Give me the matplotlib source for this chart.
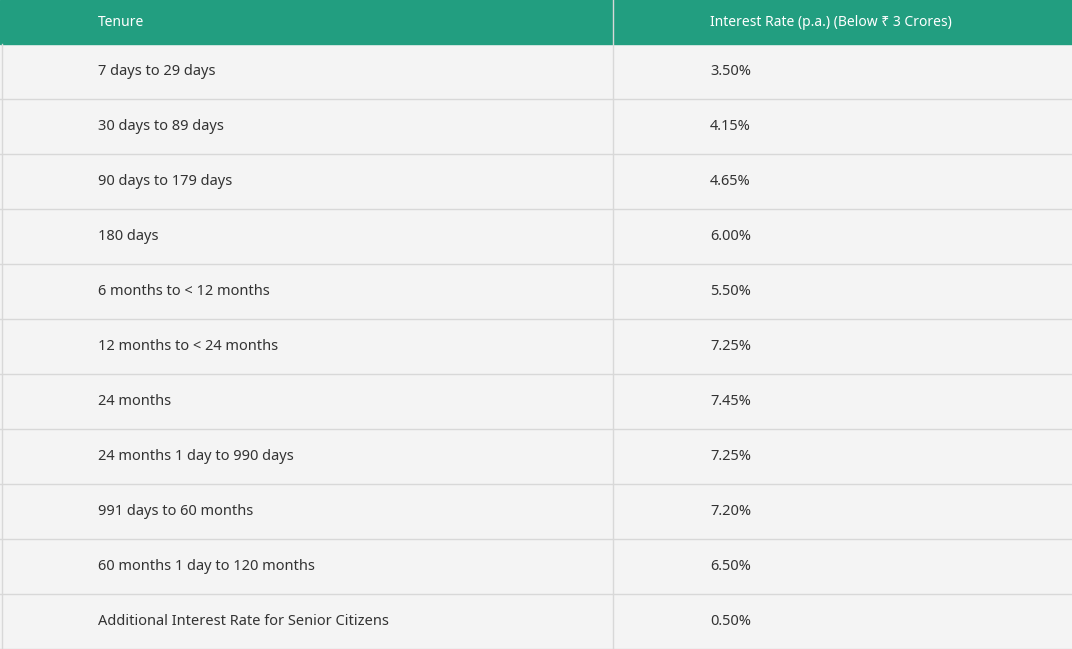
import matplotlib.pyplot as plt
from matplotlib.patches import Rectangle

plt.rcParams["font.family"] = ["Noto Sans", "DejaVu Sans"]

headers = ["Tenure", "Interest Rate (p.a.) (Below \u20b9 3 Crores)"]
tenures = [
    "7 days to 29 days",
    "30 days to 89 days",
    "90 days to 179 days",
    "180 days",
    "6 months to < 12 months",
    "12 months to < 24 months",
    "24 months",
    "24 months 1 day to 990 days",
    "991 days to 60 months",
    "60 months 1 day to 120 months",
    "Additional Interest Rate for Senior Citizens",
]
rates = ["3.50%", "4.15%", "4.65%", "6.00%", "5.50%", "7.25%",
         "7.45%", "7.25%", "7.20%", "6.50%", "0.50%"]

W, H = 1072, 649
head_h, row_h = 44, 55
col_x = 613
green = "#229e80"
bg = "#f4f4f4"
line = "#d8d8d8"

fig = plt.figure(figsize=(W / 100, H / 100), dpi=100)
ax = fig.add_axes([0, 0, 1, 1])
ax.set_xlim(0, W)
ax.set_ylim(H, 0)
ax.axis("off")

ax.add_patch(Rectangle((0, 0), W, H, color=bg))
ax.add_patch(Rectangle((0, 0), W, head_h, color=green))
ax.plot([col_x, col_x], [0, H], color=line, lw=1)
ax.plot([2, 2], [head_h, H], color=line, lw=1)
ax.text(98, head_h / 2, headers[0], color="white", fontsize=10, fontweight="bold", va="center")
ax.text(710, head_h / 2, headers[1], color="white", fontsize=10, fontweight="bold", va="center")

for i, (t, r) in enumerate(zip(tenures, rates)):
    y0 = head_h + i * row_h
    ax.plot([0, W], [y0 + row_h, y0 + row_h], color=line, lw=1)
    ax.text(98, y0 + row_h / 2, t, color="#333333", fontsize=10.5, va="center")
    ax.text(710, y0 + row_h / 2, r, color="#333333", fontsize=10.5, va="center")

fig.savefig("out.png", dpi=100)
